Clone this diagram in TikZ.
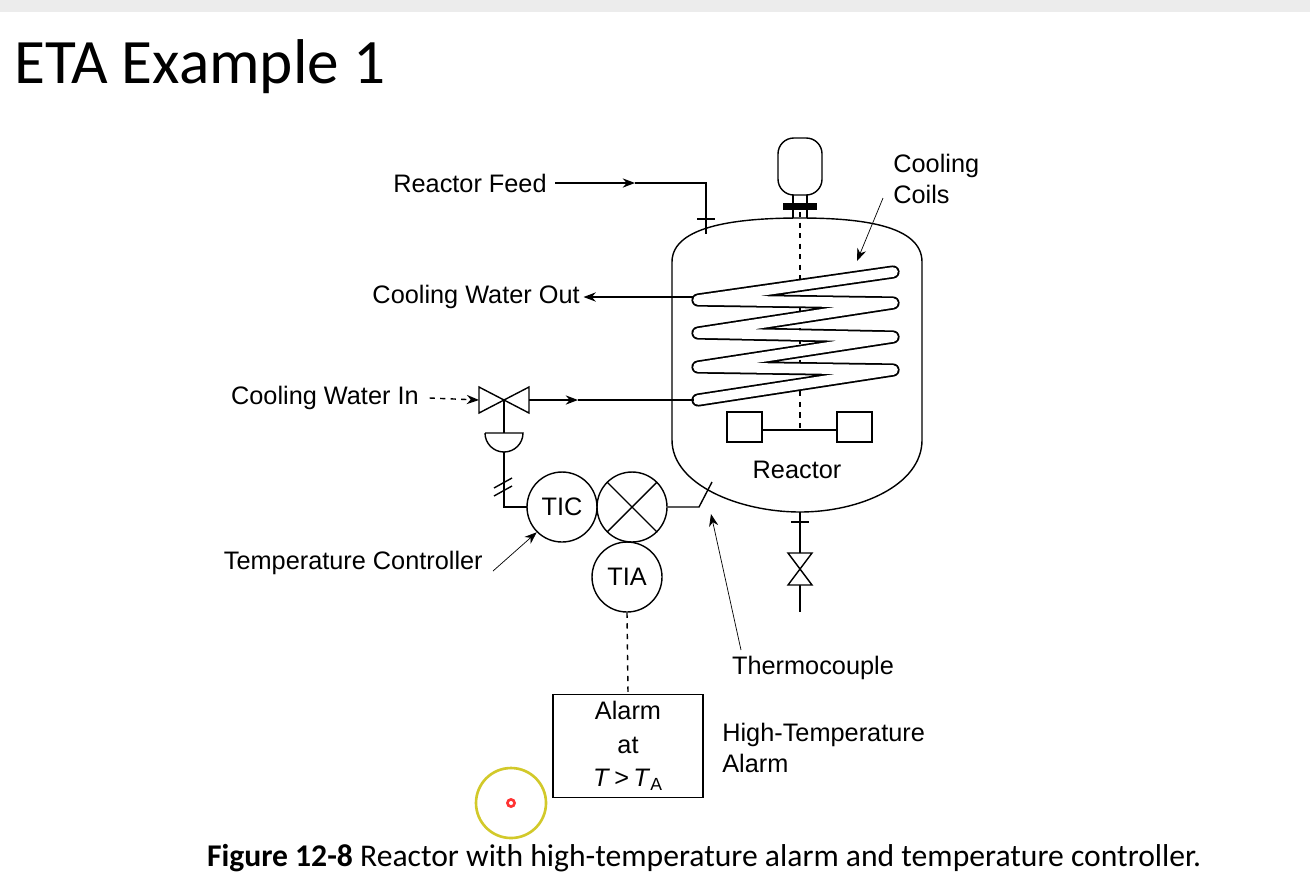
\documentclass[tikz,border=0pt]{standalone}
\usepackage{fontspec}
\setmainfont{Liberation Sans}
\newfontfamily\slidefont{Carlito}
\usetikzlibrary{arrows.meta}
\tikzstyle{lbl} = [inner sep = 0pt, font = \fontsize{14.4}{16}\selectfont]
\tikzstyle{inst} = [circle, draw = black, thick, minimum size = 1.4cm, inner sep = 0pt, font = \fontsize{14.4}{16}\selectfont]
\tikzstyle{pipe} = [thick]
\tikzstyle{flow} = [thick, -{Stealth[length = 7pt]}]
\tikzstyle{pointer} = [thin, -{Stealth[length = 7pt]}]

\begin{document}
\begin{tikzpicture}[x = 0.02cm, y = -0.02cm]
	\fill[white] (0,0) rectangle (1310,890);
	\fill[gray!15] (0,0) rectangle (1310,12);
	% title and caption
	\node[anchor = west, inner sep = 0pt, font = \slidefont\fontsize{36}{40}\selectfont] (title) at (14,67) {ETA Example 1};
	\node[inner sep = 0pt, font = \slidefont\fontsize{18}{20}\selectfont] (caption) at (704,858) {\textbf{Figure 12-8} Reactor with high-temperature alarm and temperature controller.};

	% vessel
	\draw[pipe] (672,440) -- (672,262) .. controls (672,225) and (740,218) .. (800,218) .. controls (860,218) and (922,225) .. (922,262) -- (922,440) .. controls (922,485) and (860,512) .. (800,512) .. controls (740,512) and (672,485) .. (672,440);
	\node[lbl] (reactor) at (797,470) {Reactor};

	% motor and agitator
	\draw[pipe, rounded corners = 9pt] (778,195) -- (778,138) -- (822,138) -- (822,195) -- cycle;
	\draw[thick] (793,195) -- (793,218) (807,195) -- (807,218);
	\fill (783,203) rectangle (817,210);
	\draw[thick, dashed] (800,212) -- (800,430);
	\draw[pipe] (727,412) rectangle (762,442) (837,412) rectangle (872,442);
	\draw[pipe] (762,430) -- (837,430);

	% cooling coils
	\draw[draw = black, line width = 1pt, double = white, double distance = 5.5pt, line join = round, line cap = round]
		(698,400) -- (893,370) -- (698,367) -- (893,337) -- (698,333) -- (893,303) -- (698,300) -- (893,272);

	% reactor feed
	\node[lbl, anchor = east] (feed) at (547,183) {Reactor Feed};
	\coordinate (feedin) at (706,234);
	\draw[flow] (feed.east) ++(8,0) -- (635,183);
	\draw[pipe] (635,183) -| (feedin);
	\draw[pipe] (697,219) -- (715,219);

	% cooling water out
	\node[lbl, anchor = east] (cwout) at (580,297) {Cooling Water Out};
	\coordinate (coilout) at (694,297);
	\draw[flow] (coilout) -- ([xshift = 2pt]cwout.east);

	% cooling water in and valve
	\node[lbl, anchor = east] (cwin) at (419,398) {Cooling Water In};
	\coordinate (valve) at (504,400);
	\coordinate (coilin) at (694,400);
	\draw[thick, dashed, -{Stealth[length = 7pt]}] ([xshift = 6pt]cwin.east) -- (479,400);
	\draw[pipe] (479,387) -- (529,413) -- (529,387) -- (479,413) -- cycle;
	\draw[flow] (529,400) -- (578,400);
	\draw[pipe] (578,400) -- (coilin);
	\draw[pipe] (valve) -- (504,433);
	\draw[pipe] (485,433) -- (523,433) arc (0:180:19);
	\draw[pipe] (504,452) |- (527,507);
	\draw[thick] (494,488) -- (512,478) (494,496) -- (512,486);

	% instruments
	\node[inst] (tic) at (562,507) {TIC};
	\node[inst] (tx) at (632,507) {};
	\draw[thick] (tx.45) -- (tx.225) (tx.135) -- (tx.315);
	\node[inst] (tia) at (627,577) {TIA};
	\draw[pipe] (tx.east) -- (699,507) -- (712,482);

	% alarm
	\node[draw, thick, minimum width = 3cm, minimum height = 2.06cm, lbl, align = center] (alarm) at (628,746) {Alarm\\[3pt] at\\[3pt] \textit{T}\,>\,\textit{T}\textsubscript{A}};
	\draw[thick, dashed] (tia.south) -- (alarm.north);
	\node[lbl, anchor = west, align = left] (hta) at (722,748) {High-Temperature\\[2pt] Alarm};

	% bottom outlet
	\coordinate (drain) at (800,612);
	\draw[pipe] (800,512) -- (drain);
	\draw[pipe] (791,522) -- (809,522);
	\draw[pipe, fill = white] (788,553) -- (812,585) -- (788,585) -- (812,553) -- cycle;

	% labels with pointers
	\node[lbl, anchor = west, align = left] (coils) at (893,179) {Cooling\\[2pt] Coils};
	\draw[pointer] (883,198) -- (857,261);
	\node[lbl] (thermo) at (813,668) {Thermocouple};
	\draw[pointer] (741,650) -- (711,514);
	\node[lbl, anchor = east] (tcont) at (483,563) {Temperature Controller};
	\draw[pointer] (493,571) -- (tic.225);

	% pointer highlight
	\draw[yellow!80!black, line width = 1.5pt] (511,803) circle (35);
	\fill[red!80] (511,803) circle (5);
	\fill[white] (511,803) circle (2);
\end{tikzpicture}
\end{document}
